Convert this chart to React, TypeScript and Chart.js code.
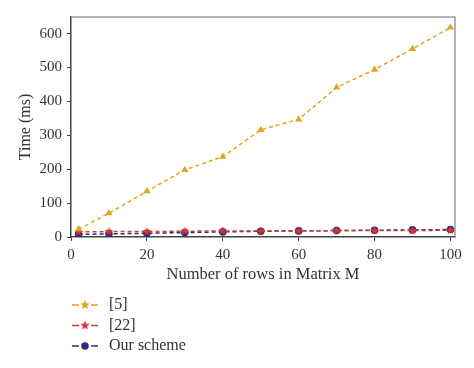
import React, { useEffect, useRef } from "react";
import { Chart, registerables } from "chart.js";
Chart.register(...registerables);

const rows = [2, 10, 20, 30, 40, 50, 60, 70, 80, 90, 100];
const ref5 = [23, 70, 135, 198, 237, 316, 347, 441, 494, 555, 618];
const ref22 = [15, 16, 16, 17, 18, 18, 18, 19, 19, 19, 20];
const ours = [8, 9, 11, 13, 15, 17, 18, 19, 20, 21, 22];
const seriesNames = ["[5]", "[22]", "Our scheme"];
const xTickValues = [0, 20, 40, 60, 80, 100];
const yTickValues = [0, 100, 200, 300, 400, 500, 600];
const xTitle = "Number of rows in Matrix M";
const yTitle = "Time (ms)";

const COLORS = ["#E2A322", "#D23A2E", "#2E2A7E"];
const FONT = "'Liberation Serif', 'DejaVu Serif', serif";
const TEXT = "#333333";

function makeStar(color: string, r: number): HTMLCanvasElement {
  const c = document.createElement("canvas");
  const s = Math.ceil(r * 2 + 2);
  c.width = s;
  c.height = s;
  const g = c.getContext("2d")!;
  g.fillStyle = color;
  g.beginPath();
  for (let i = 0; i < 10; i++) {
    const rr = i % 2 === 0 ? r : r * 0.45;
    const a = -Math.PI / 2 + (i * Math.PI) / 5;
    const px = s / 2 + rr * Math.cos(a);
    const py = s / 2 + rr * Math.sin(a);
    if (i === 0) g.moveTo(px, py);
    else g.lineTo(px, py);
  }
  g.closePath();
  g.fill();
  return c;
}

const framePlugin = {
  id: "frame",
  beforeDatasetsDraw(chart: any) {
    const { ctx, chartArea } = chart;
    ctx.save();
    ctx.strokeStyle = "#9a9a9a";
    ctx.lineWidth = 1.5;
    ctx.beginPath();
    ctx.moveTo(chartArea.left, chartArea.top);
    ctx.lineTo(chartArea.right, chartArea.top);
    ctx.lineTo(chartArea.right, chartArea.bottom);
    ctx.stroke();
    ctx.restore();
  },
};

const legendPlugin = {
  id: "customLegend",
  afterDraw(chart: any) {
    const ctx = chart.ctx;
    ctx.save();
    const markers = [makeStar(COLORS[0], 5), makeStar(COLORS[1], 5), null];
    chart.data.datasets.forEach((ds: any, i: number) => {
      const cy = 305 + i * 20.5;
      const x0 = 72;
      const x1 = 98;
      const cx = (x0 + x1) / 2;
      ctx.strokeStyle = ds.borderColor;
      ctx.lineWidth = 1.5;
      ctx.beginPath();
      ctx.moveTo(x0, cy);
      ctx.lineTo(x0 + 7, cy);
      ctx.moveTo(x1 - 7, cy);
      ctx.lineTo(x1, cy);
      ctx.stroke();
      const m = markers[i];
      if (m) {
        ctx.drawImage(m, cx - m.width / 2, cy - m.height / 2);
      } else {
        ctx.fillStyle = ds.borderColor;
        ctx.beginPath();
        ctx.arc(cx, cy, 3.8, 0, Math.PI * 2);
        ctx.fill();
      }
      ctx.fillStyle = TEXT;
      ctx.font = `16px ${FONT}`;
      ctx.textBaseline = "middle";
      ctx.textAlign = "left";
      ctx.fillText(ds.label, 109, cy);
    });
    ctx.restore();
  },
};

export default function App() {
  const ref = useRef<HTMLCanvasElement | null>(null);
  useEffect(() => {
    if (!ref.current) return;
    const star22 = makeStar(COLORS[1], 4.5);
    const series = [ref5, ref22, ours];
    const styles: any[] = ["triangle", star22, "circle"];
    const chart = new Chart(ref.current, {
      type: "line",
      data: {
        datasets: series.map((vals, i) => ({
          label: seriesNames[i],
          data: rows.map((x, j) => ({ x, y: vals[j] })),
          borderColor: COLORS[i],
          backgroundColor: COLORS[i],
          borderWidth: 1.5,
          borderDash: [4, 3],
          pointStyle: styles[i],
          pointRadius: i === 2 ? 3.8 : 4.2,
          pointBorderWidth: 0,
          fill: false,
          tension: 0,
        })),
      },
      options: {
        animation: false,
        responsive: false,
        maintainAspectRatio: false,
        layout: { padding: { left: 16, top: 17, right: 19, bottom: 83 } },
        plugins: {
          legend: { display: false },
          tooltip: { enabled: false },
        },
        scales: {
          x: {
            type: "linear",
            min: 0,
            max: 101.2,
            afterFit: (s: any) => {
              s.height = 48;
            },
            afterBuildTicks: (s: any) => {
              s.ticks = xTickValues.map((v) => ({ value: v }));
            },
            ticks: {
              color: TEXT,
              font: { family: FONT, size: 15 },
              padding: 5,
            },
            grid: { drawOnChartArea: false, drawTicks: true, tickLength: 4, color: "#444" },
            border: { display: true, color: "#444", width: 1.5 },
            title: {
              display: true,
              text: xTitle,
              color: TEXT,
              font: { family: FONT, size: 16.5 },
              padding: { top: 0, bottom: 0 },
            },
          },
          y: {
            type: "linear",
            min: 0,
            max: 649,
            afterFit: (s: any) => {
              s.width = 55;
            },
            afterBuildTicks: (s: any) => {
              s.ticks = yTickValues.map((v) => ({ value: v }));
            },
            ticks: {
              color: TEXT,
              font: { family: FONT, size: 15 },
              padding: 5,
            },
            grid: { drawOnChartArea: false, drawTicks: true, tickLength: 4, color: "#444" },
            border: { display: true, color: "#444", width: 1.5 },
            title: {
              display: true,
              text: yTitle,
              color: TEXT,
              font: { family: FONT, size: 16 },
              padding: { top: 0, bottom: 0 },
            },
          },
        },
      },
      plugins: [framePlugin, legendPlugin],
    });
    return () => chart.destroy();
  }, []);
  return (
    <div style={{ position: "fixed", left: 0, top: 0, width: 474, height: 368, background: "#fff" }}>
      <canvas ref={ref} width={474} height={368} style={{ width: 474, height: 368 }} />
    </div>
  );
}
